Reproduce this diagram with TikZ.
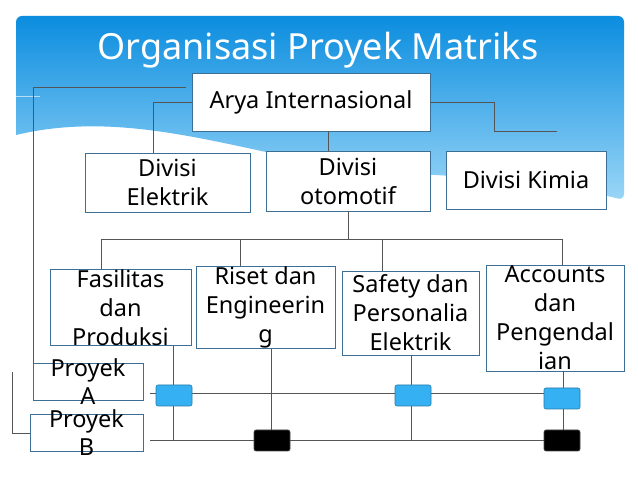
\documentclass[tikz,border=0pt]{standalone}
\usepackage{fontspec}
\setmainfont{Noto Sans}
\begin{document}
\begin{tikzpicture}[x=1pt,y=-1pt,
  box/.style={draw=boxc,line width=0.9pt,fill=white,inner sep=0pt,align=center,font=\fontsize{23.5}{29}\selectfont},
  blu/.style={draw=bluec!70!black,fill=bluec,rounded corners=2pt,line width=0.6pt},
  blk/.style={draw=black!70,fill=black,rounded corners=2pt,line width=0.6pt},
  ln/.style={draw=linec,line width=0.8pt}]
\definecolor{boxc}{HTML}{3D6E94}
\definecolor{bluec}{HTML}{35B0F2}
\definecolor{linec}{HTML}{555555}
\definecolor{topc}{HTML}{0B8DDF}
\definecolor{botc}{HTML}{9AD6F7}
\useasboundingbox (0,0) rectangle (638,478);
\fill[white] (0,0) rectangle (638,478);
% header
\shade[top color=topc,bottom color=botc,rounded corners=6pt]
  (16,135) -- (16,16) -- (624,16) -- (624,200) [sharp corners]
  .. controls (500,170) and (420,180) .. (330,165)
  .. controls (220,145) and (120,110) .. (16,135) -- cycle;
\draw[white,opacity=0.6,line width=0.8pt] (0,96) -- (40,96);
\node[text=white,font=\fontsize{36}{40}\selectfont] (title) at (318,50) {Organisasi Proyek Matriks};
% boxes
\node[box,minimum width=238,minimum height=58] (arya) at (311,102) {Arya Internasional};
\node[box,minimum width=165,minimum height=59] (del) at (167.5,182.5) {Divisi\\Elektrik};
\node[box,minimum width=164,minimum height=60] (dot) at (348,181) {Divisi\\otomotif};
\node[box,minimum width=160,minimum height=58] (dki) at (526,180) {Divisi Kimia};
\node[box,minimum width=141,minimum height=73] (fas) at (120.5,307.5) {Fasilitas\\dan\\Produksi};
\node[box,minimum width=139,minimum height=73] (ris) at (265.5,307.5) {Riset dan\\Engineerin\\g};
\node[box,minimum width=137,minimum height=84] (saf) at (410.5,313) {Safety dan\\Personalia\\Elektrik};
\node[box,minimum width=138,minimum height=106] (acc) at (555,318) {Accounts\\dan\\Pengendal\\ian};
% connectors top
\coordinate (lt) at (33,382);
\draw[ln] (186,87) -| (lt);
\draw[ln] (arya.west |- 0,102) -| (del.north -| 153,0);
\draw[ln] (arya.south -| 328,0) -- (dot.north -| 328,0);
\coordinate (rt) at (557,131);
\draw[ln] (arya.east |- 0,102) -| (494,131) -- (rt);
\draw[ln] (dot.south) -- (348,239);
\draw[ln] (101,239) -- (562,239);
\draw[ln] (101,239) -- (fas.north -| 101,0);
\draw[ln] (240,239) -- (ris.north -| 240,0);
\draw[ln] (382,239) -- (saf.north -| 382,0);
\draw[ln] (562,239) -- (acc.north -| 562,0);
% lower grid
\draw[ln] (150,393) -- (548,393);
\draw[ln] (150,440) -- (548,440);
\draw[ln] (fas.south -| 173,0) -- (173,440);
\draw[ln] (ris.south -| 271,0) -- (271,432);
\draw[ln] (saf.south -| 411,0) -- (411,440);
\draw[ln] (acc.south -| 563,0) -- (563,432);
\draw[ln] (12,372) -- (12,433) -- (30,433);
\node[blu,minimum width=36,minimum height=21] (b1) at (174,395.5) {};
\node[blu,minimum width=36,minimum height=21] (b2) at (413,395.5) {};
\node[blu,minimum width=36,minimum height=21] (b3) at (562,398.5) {};
\node[blk,minimum width=36,minimum height=21] (k1) at (272,440.5) {};
\node[blk,minimum width=36,minimum height=21] (k2) at (562,440.5) {};
\node[box,minimum width=110,minimum height=37] (pa) at (88,381.5) {};
\node[box,minimum width=113,minimum height=37] (pb) at (86.5,432.5) {};
\node[align=center,font=\fontsize{23.5}{28}\selectfont] at (pa) {Proyek\\A};
\node[align=center,font=\fontsize{23.5}{28}\selectfont] at (pb) {Proyek\\B};
\end{tikzpicture}
\end{document}
